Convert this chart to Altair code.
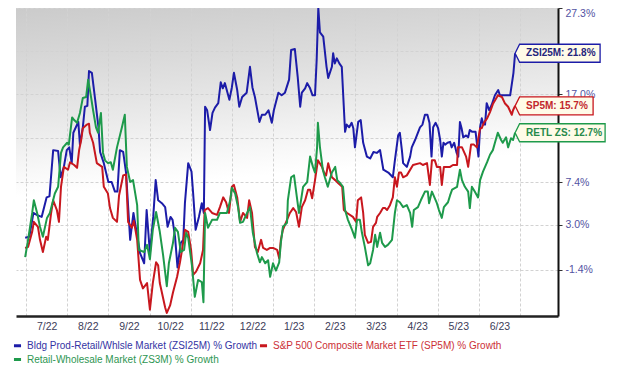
import altair as alt
import pandas as pd

SERIES = [
    "Bldg Prod-Retail/Whlsle Market (ZSI25M) % Growth",
    "S&P 500 Composite Market ETF (SP5M) % Growth",
    "Retail-Wholesale Market (ZS3M) % Growth",
]
TAGS = ["ZSI25M", "SP5M", "RETL ZS"]
MONTHS = ["7/22", "8/22", "9/22", "10/22", "11/22", "12/22",
          "1/23", "2/23", "3/23", "4/23", "5/23", "6/23"]
Y_TICKS_PCT = [-1.4, 3.0, 7.4, 12.1, 17.0, 22.1, 27.3]

# time in months since 1 Jul 2022, value in % growth
zsi_t = [-0.02, 0.08, 0.18, 0.26, 0.38, 0.50, 0.57, 0.66, 0.78, 0.84,
         0.92, 0.99, 1.05, 1.11, 1.15, 1.27, 1.31, 1.38, 1.43, 1.49,
         1.53, 1.60, 1.68, 1.76, 1.80, 1.89, 2.00, 2.08, 2.16, 2.22,
         2.28, 2.36, 2.43, 2.53, 2.61, 2.69, 2.77, 2.87, 2.93, 3.01,
         3.09, 3.15, 3.21, 3.30, 3.38, 3.44, 3.51, 3.56, 3.62, 3.68,
         3.76, 3.82, 3.86, 3.94, 4.02, 4.06, 4.12, 4.20, 4.27, 4.32,
         4.35, 4.40, 4.47, 4.53, 4.59, 4.67, 4.73, 4.78, 4.83, 4.94,
         5.00, 5.05, 5.13, 5.18, 5.25, 5.36, 5.44, 5.50, 5.56, 5.67,
         5.73, 5.81, 5.89, 5.97, 6.02, 6.13, 6.21, 6.29, 6.39, 6.44,
         6.53, 6.60, 6.66, 6.70, 6.78, 6.83, 6.90, 6.96, 7.02, 7.06,
         7.10, 7.14, 7.22, 7.30, 7.34, 7.43, 7.46, 7.50, 7.55, 7.61,
         7.67, 7.75, 7.79, 7.85, 7.91, 7.95, 7.99, 8.07, 8.13, 8.19,
         8.28, 8.36, 8.44, 8.52, 8.60, 8.68, 8.80, 8.91, 8.96, 9.04,
         9.08, 9.13, 9.16, 9.25, 9.33, 9.37, 9.45, 9.57, 9.63, 9.69,
         9.75, 9.80, 9.85, 9.89, 9.95, 10.01, 10.06, 10.10, 10.14, 10.18,
         10.24, 10.30, 10.34, 10.40, 10.46, 10.50, 10.54, 10.58, 10.62, 10.69,
         10.74, 10.78, 10.84, 10.92, 10.99, 11.03, 11.07, 11.11, 11.15, 11.19,
         11.25, 11.31, 11.39, 11.47, 11.51, 11.76, 11.84, 11.88]
zsi_pct = [1.7, 1.8, 4.2, 4.0, 3.8, 5.8, 5.9, 10.8, 10.7, 7.9,
           9.0, 10.8, 11.1, 9.4, 12.7, 13.9, 11.4, 13.3, 15.6, 15.7,
           19.7, 19.5, 16.4, 13.3, 10.6, 9.4, 7.4, 7.4, 6.4, 6.4,
           10.8, 10.6, 8.4, 1.5, 4.2, 2.2, 0.2, -0.8, 4.5, 0.2,
           3.8, 7.6, 5.5, 5.2, 4.8, 2.8, 3.8, 3.5, 1.8, -1.2,
           1.2, 1.5, 5.2, 9.4, 8.5, 6.2, 2.5, 3.8, 5.2, 4.2,
           15.6, 15.2, 13.0, 14.9, 15.5, 16.0, 18.4, 17.7, 18.3, 16.4,
           17.8, 19.5, 17.5, 15.6, 16.7, 17.2, 20.2, 17.8, 16.7, 13.9,
           14.7, 14.7, 15.2, 13.8, 15.2, 17.2, 16.9, 17.2, 18.7, 22.2,
           22.3, 19.0, 15.6, 17.2, 17.7, 18.3, 17.7, 16.9, 16.9, 21.0,
           27.3, 24.3, 23.8, 20.2, 18.9, 20.2, 21.8, 20.6, 21.2, 20.6,
           20.2, 12.8, 13.6, 13.3, 13.8, 13.2, 11.1, 13.9, 14.1, 11.6,
           10.1, 9.9, 10.6, 10.5, 10.8, 8.7, 8.4, 7.9, 9.7, 12.4,
           12.7, 10.8, 9.4, 9.0, 10.1, 11.1, 11.9, 13.3, 13.6, 14.7,
           14.7, 13.8, 10.1, 13.3, 13.8, 13.2, 11.9, 10.1, 11.6, 11.4,
           11.6, 11.7, 11.1, 11.6, 10.5, 10.1, 13.9, 13.2, 12.2, 12.4,
           12.2, 13.0, 12.8, 12.8, 10.1, 13.3, 14.3, 13.6, 13.6, 16.0,
           15.2, 15.8, 16.9, 17.5, 16.9, 16.9, 19.5, 21.8]

sp5_t = [-0.02, 0.05, 0.15, 0.19, 0.29, 0.34, 0.41, 0.49, 0.53, 0.61,
         0.66, 0.75, 0.80, 0.85, 0.92, 1.02, 1.07, 1.17, 1.24, 1.29,
         1.34, 1.38, 1.48, 1.53, 1.55, 1.63, 1.72, 1.85, 1.89, 1.99,
         2.04, 2.11, 2.21, 2.26, 2.36, 2.43, 2.48, 2.57, 2.62, 2.70,
         2.77, 2.84, 2.94, 3.01, 3.08, 3.16, 3.21, 3.25, 3.38, 3.42,
         3.50, 3.57, 3.67, 3.74, 3.79, 3.86, 3.94, 4.01, 4.06, 4.13,
         4.23, 4.30, 4.34, 4.42, 4.52, 4.64, 4.71, 4.79, 4.86, 4.93,
         5.00, 5.05, 5.13, 5.20, 5.27, 5.37, 5.42, 5.49, 5.56, 5.63,
         5.71, 5.76, 5.85, 5.93, 6.00, 6.10, 6.15, 6.19, 6.24, 6.34,
         6.41, 6.49, 6.56, 6.63, 6.70, 6.78, 6.85, 6.90, 6.95, 7.02,
         7.09, 7.19, 7.24, 7.29, 7.34, 7.43, 7.51, 7.58, 7.68, 7.72,
         7.80, 7.94, 8.02, 8.06, 8.14, 8.19, 8.23, 8.31, 8.38, 8.43,
         8.50, 8.53, 8.60, 8.67, 8.72, 8.77, 8.84, 8.91, 8.96, 9.01,
         9.06, 9.11, 9.16, 9.25, 9.40, 9.57, 9.64, 9.74, 9.81, 9.86,
         9.93, 9.98, 10.06, 10.10, 10.15, 10.30, 10.37, 10.47, 10.49, 10.59,
         10.69, 10.74, 10.81, 10.88, 10.95, 11.03, 11.07, 11.12, 11.20, 11.27,
         11.34, 11.44, 11.46, 11.56, 11.63, 11.71, 11.80, 11.83, 11.88]
sp5_pct = [0.7, 0.8, 2.3, 3.3, 2.8, 1.5, 0.3, 1.8, 1.5, 4.2,
           5.5, 4.5, 3.3, 6.9, 9.0, 8.7, 9.5, 9.2, 8.9, 10.8,
           11.9, 13.2, 13.6, 13.7, 12.7, 11.6, 9.4, 9.0, 6.9, 6.2,
           4.7, 3.7, 3.3, 6.0, 8.1, 8.2, 3.3, 2.7, 3.4, 1.5,
           -2.4, -3.2, -2.7, -5.2, -2.7, -0.7, -1.0, -2.7, -5.0, -5.5,
           -4.8, -3.6, -2.1, -0.7, 0.5, 2.5, 2.3, 0.5, -1.9, -1.6,
           -0.8, 0.5, 4.5, 4.7, 4.2, 4.0, 4.8, 5.8, 5.3, 4.2,
           6.9, 7.1, 5.8, 3.3, 4.2, 3.7, 5.5, 4.2, 0.8, 0.3,
           1.5, 0.7, 0.5, 0.7, 0.7, 0.5, -0.3, 1.5, 2.5, 3.5,
           4.2, 4.7, 4.3, 2.8, 4.8, 5.5, 6.6, 6.6, 5.7, 7.6,
           9.7, 9.0, 8.4, 8.1, 9.4, 7.9, 7.6, 7.3, 6.9, 4.5,
           4.2, 3.8, 3.3, 5.5, 5.8, 4.2, 2.0, 1.2, 1.3, 2.8,
           3.2, 3.8, 4.2, 4.7, 4.7, 4.5, 5.0, 5.8, 7.9, 6.9,
           8.4, 8.4, 7.9, 8.1, 9.2, 9.4, 9.2, 9.4, 7.1, 9.7,
           9.7, 9.0, 9.0, 7.1, 9.0, 9.0, 9.2, 9.2, 11.1, 11.1,
           10.1, 9.0, 11.4, 11.4, 11.1, 13.2, 13.2, 13.8, 14.3, 15.0,
           15.9, 16.7, 16.9, 16.7, 16.0, 15.6, 14.7, 15.2, 15.7]

retl_t = [-0.02, 0.05, 0.15, 0.19, 0.27, 0.34, 0.41, 0.51, 0.58, 0.70,
          0.78, 0.85, 0.90, 1.00, 1.04, 1.12, 1.17, 1.24, 1.31, 1.38,
          1.46, 1.51, 1.58, 1.63, 1.70, 1.75, 1.82, 1.87, 1.92, 1.99,
          2.06, 2.11, 2.21, 2.33, 2.40, 2.45, 2.53, 2.60, 2.70, 2.74,
          2.87, 2.94, 3.01, 3.08, 3.16, 3.25, 3.33, 3.42, 3.47, 3.57,
          3.62, 3.69, 3.76, 3.84, 3.89, 3.94, 4.03, 4.10, 4.18, 4.27,
          4.31, 4.35, 4.42, 4.52, 4.64, 4.71, 4.88, 4.96, 5.00, 5.08,
          5.15, 5.20, 5.27, 5.37, 5.44, 5.51, 5.61, 5.68, 5.73, 5.81,
          5.88, 5.93, 6.00, 6.07, 6.15, 6.19, 6.24, 6.34, 6.36, 6.44,
          6.51, 6.58, 6.63, 6.68, 6.73, 6.83, 6.90, 6.97, 7.02, 7.07,
          7.09, 7.14, 7.21, 7.26, 7.33, 7.43, 7.51, 7.56, 7.63, 7.70,
          7.75, 7.82, 7.92, 7.99, 8.04, 8.11, 8.16, 8.23, 8.31, 8.36,
          8.43, 8.48, 8.53, 8.60, 8.65, 8.72, 8.79, 8.89, 8.96, 9.01,
          9.08, 9.16, 9.25, 9.33, 9.38, 9.42, 9.52, 9.59, 9.69, 9.76,
          9.79, 9.86, 9.98, 10.03, 10.10, 10.15, 10.25, 10.30, 10.35, 10.47,
          10.54, 10.59, 10.66, 10.74, 10.78, 10.83, 10.90, 10.98, 11.03, 11.10,
          11.20, 11.27, 11.34, 11.39, 11.46, 11.54, 11.58, 11.66, 11.71, 11.78,
          11.83, 11.88]
retl_pct = [-0.2, 1.5, 4.2, 5.5, 4.2, 2.8, 1.8, 3.7, 4.2, 6.2,
            6.9, 10.5, 11.1, 11.6, 11.4, 14.4, 14.1, 13.8, 14.9, 16.6,
            16.7, 18.7, 16.7, 15.2, 13.3, 12.7, 14.9, 10.5, 9.7, 9.4,
            9.5, 8.7, 11.1, 13.3, 14.7, 9.0, 7.4, 7.6, 5.0, 0.5,
            0.3, 1.0, -0.4, 2.5, 4.3, 2.3, 0.0, -3.0, -0.8, 1.2,
            2.7, 2.3, 0.3, 0.5, 2.2, 1.7, -1.0, -4.0, -2.4, -2.6,
            -4.5, 4.2, 2.7, 3.5, 3.5, 4.2, 4.2, 5.5, 6.8, 6.2,
            4.8, 3.2, 3.3, 4.2, 4.8, 2.2, 0.2, -0.7, -0.2, -0.8,
            -0.5, -2.1, -0.8, -1.5, -0.7, 1.2, 2.8, 3.2, 5.5, 7.9,
            8.1, 5.8, 4.2, 5.5, 6.9, 7.4, 10.1, 9.0, 8.4, 11.1,
            13.8, 11.1, 8.7, 7.9, 6.9, 8.4, 9.0, 7.6, 7.3, 6.9,
            4.5, 3.5, 2.5, 1.7, 3.5, 3.5, 2.2, 0.8, -1.0, -0.8,
            0.5, 2.0, 0.8, 2.2, 1.2, 0.8, 1.0, 1.5, 4.2, 5.5,
            5.3, 4.8, 5.0, 4.2, 2.8, 4.5, 4.8, 5.5, 6.4, 6.4,
            5.2, 6.4, 5.2, 4.5, 3.7, 4.8, 5.3, 6.0, 6.6, 6.9,
            8.7, 7.6, 6.9, 6.4, 4.7, 6.9, 6.4, 5.8, 7.6, 8.5,
            9.5, 10.3, 10.8, 11.6, 12.7, 11.9, 11.6, 12.2, 11.1, 12.1,
            11.9, 12.7]

# ---- styles ----
LINE_COLORS = ["#1c1ca8", "#c8171e", "#1e9a4b"]
TAG_COLORS = ["#25257c", "#c2272d", "#278a4a"]
LEGEND_TEXT_COLORS = ["#3434a4", "#cc3036", "#2e9652"]
BOX_PATHS = [
    "M0,0L0.45,-0.9L8.5,-0.9L8.5,0.9L0.45,0.9Z",
    "M0,0L0.45,-0.9L7.8,-0.9L7.8,0.9L0.45,0.9Z",
    "M0,0L0.45,-0.9L9.0,-0.9L9.0,0.9L0.45,0.9Z",
]
FONT = "Liberation Sans"

rows = []
for name, ts, ps in zip(SERIES, [zsi_t, sp5_t, retl_t], [zsi_pct, sp5_pct, retl_pct]):
    assert len(ts) == len(ps), name
    for t, p in zip(ts, ps):
        rows.append({"series": name, "t": t, "pct": p})
df = pd.DataFrame(rows)

last_t = [zsi_t[-1], sp5_t[-1], retl_t[-1]]
last_p = [zsi_pct[-1], sp5_pct[-1], retl_pct[-1]]
ends = pd.DataFrame({
    "tagkey": TAGS,
    "t": last_t,
    "pct": last_p,
    "tag": [f"{g}: {p:.1f}%" for g, p in zip(TAGS, last_p)],
})

x_scale = alt.Scale(domain=[-0.243, 12.922], nice=False, zero=False)
y_scale = alt.Scale(type="log", domain=[0.9422, 1.2731], nice=False, zero=False)

month_expr = "[" + ",".join(f"'{m}'" for m in MONTHS) + ",''][datum.value]"

legend_color_expr = " : ".join(
    f"datum.value == '{s}' ? '{c}'" for s, c in zip(SERIES[:-1], LEGEND_TEXT_COLORS[:-1])
) + f" : '{LEGEND_TEXT_COLORS[-1]}'"

x_axis = alt.Axis(
    values=list(range(13)), labelExpr=month_expr, title=None,
    grid=True, gridColor="#d2d2d2", gridDash=[3, 2], gridWidth=1,
    ticks=False, tickSize=0, domainColor="#222222", domainWidth=2.5,
    labelOffset=20.6, labelPadding=5, labelFontSize=10.5, labelFont=FONT,
    labelColor="#3c3c58", labelFlush=False, labelOverlap=False,
)
y_axis = alt.Axis(
    orient="right", values=[round(1 + v / 100, 4) for v in Y_TICKS_PCT],
    labelExpr="replace(format((datum.value - 1) * 100, '.1f'), '\u2212', '-') + '%'",
    title=None, grid=True, gridColor="#d2d2d2", gridDash=[3, 2], gridWidth=1,
    tickSize=4, tickColor="#333333", domainColor="#111111", domainWidth=2,
    labelPadding=3, labelFontSize=10.5, labelFont=FONT, labelColor="#5252a2",
    labelFlush=True, labelOverlap=False,
)

color_scale = alt.Scale(domain=SERIES, range=LINE_COLORS)

base = alt.Chart(df).transform_calculate(f="1 + datum.pct / 100")

lines = base.mark_line(strokeWidth=2, strokeJoin="round", clip=False).encode(
    x=alt.X("t:Q", scale=x_scale, axis=x_axis),
    y=alt.Y("f:Q", scale=y_scale, axis=y_axis),
    color=alt.Color(
        "series:N", scale=color_scale, sort=SERIES,
        legend=alt.Legend(
            title=None, orient="none", legendX=-4, legendY=332, columns=2,
            direction="horizontal", symbolType="stroke", symbolStrokeWidth=3,
            symbolSize=50, labelFontSize=10, labelFont=FONT, labelOffset=4,
            columnPadding=-11, rowPadding=1, labelLimit=400, padding=0,
            labelColor={"expr": legend_color_expr},
        ),
    ),
)

end_base = alt.Chart(ends).transform_calculate(f="1 + datum.pct / 100")

boxes = end_base.mark_point(
    size=400, fill="#fffbe8", fillOpacity=1, opacity=1, strokeWidth=1.3, clip=False
).encode(
    x=alt.X("t:Q", scale=x_scale),
    y=alt.Y("f:Q", scale=y_scale),
    shape=alt.Shape("tagkey:N", scale=alt.Scale(domain=TAGS, range=BOX_PATHS), legend=None),
    stroke=alt.Stroke("tagkey:N", scale=alt.Scale(domain=TAGS, range=LINE_COLORS), legend=None),
)

tags = end_base.mark_text(
    align="left", baseline="middle", dx=11, fontSize=10, fontWeight="bold", font=FONT
).encode(
    x=alt.X("t:Q", scale=x_scale),
    y=alt.Y("f:Q", scale=y_scale),
    text="tag:N",
    fill=alt.Fill("tagkey:N", scale=alt.Scale(domain=TAGS, range=TAG_COLORS), legend=None),
)

grad = ("{gradient: 'linear', x1: 0, y1: 0, x2: 0.15, y2: 1, stops: ["
        "{offset: 0, color: '#cbcbcb'}, {offset: 0.2, color: '#dadada'}, "
        "{offset: 0.38, color: '#eaeaea'}, {offset: 0.52, color: '#f8f8f8'}, "
        "{offset: 0.6, color: '#ffffff'}, {offset: 1, color: '#ffffff'}]}")

chart = (
    alt.layer(lines, boxes, tags)
    .resolve_legend(shape="independent", stroke="independent", fill="independent")
    .properties(
        width=542, height=308,
        autosize=alt.AutoSizeParams(type="none"),
        padding={"left": 8, "top": 0, "right": 54, "bottom": 49},
        background="#ffffff",
    )
    .configure_view(strokeWidth=0, fill={"expr": grad})
)

chart.save("out.html", embed_options={"renderer": "svg", "actions": False})
